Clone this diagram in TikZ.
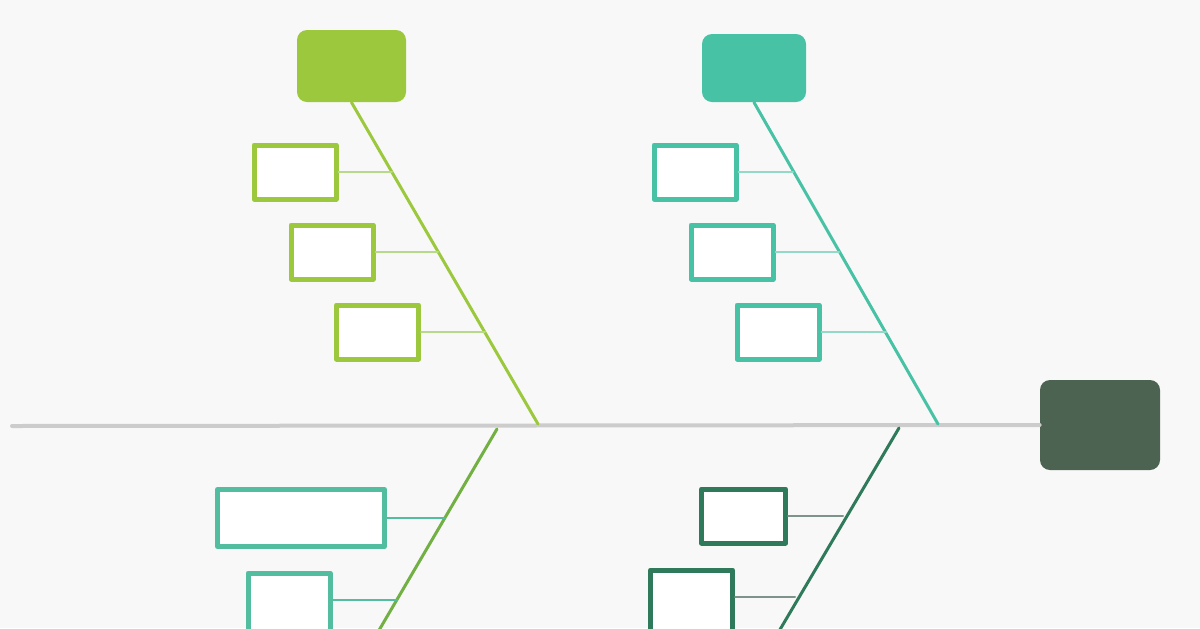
\documentclass[tikz,border=0pt]{standalone}
\usetikzlibrary{positioning}
\definecolor{bgcol}{HTML}{F8F8F8}
\definecolor{spinecol}{HTML}{CCCCCC}
\definecolor{headcol}{HTML}{4B6350}
\definecolor{limecol}{HTML}{9BC83C}
\definecolor{limelight}{HTML}{B9D98A}
\definecolor{tealcol}{HTML}{48C2A5}
\definecolor{teallight}{HTML}{93D9C8}
\definecolor{boxteal}{HTML}{52BE9F}
\definecolor{mixcol}{HTML}{72B044}
\definecolor{darkcol}{HTML}{2F7A5A}
\definecolor{darklight}{HTML}{7E948A}
\tikzset{
  cat/.style={rounded corners=5pt, inner sep=0pt},
  sub/.style={draw, fill=white, line width=2.5pt, inner sep=0pt,
    minimum width=41pt, minimum height=27pt},
  bone/.style={line width=1.5pt},
  rib/.style={line width=1pt}
}
\begin{document}
\begin{tikzpicture}[x=0.5pt, y=-0.5pt, line join=round, line cap=round]
  \fill[bgcol] (0,0) rectangle (1200,628);
  \clip (0,0) rectangle (1200,628);
  % head and spine
  \node[cat, fill=headcol, minimum width=60pt, minimum height=45pt] (head) at (1100,425) {};
  \draw[spinecol, line width=2pt] (12,426) coordinate (tail) -- (head.west);
  % top left
  \node[cat, fill=limecol, minimum width=54.5pt, minimum height=36pt] (catA) at (351.5,66) {};
  \coordinate (endA) at (538,424);
  \draw[bone, limecol] (catA.south) -- (endA);
  \node[sub, draw=limecol] (a1) at (295,172) {};
  \node[sub, draw=limecol] (a2) at (332,252) {};
  \node[sub, draw=limecol] (a3) at (377.5,332) {};
  \coordinate (pa1) at (392,172);
  \coordinate (pa2) at (438,252);
  \coordinate (pa3) at (485,332);
  \foreach \i in {1,2,3} \draw[rib, limelight] (a\i.east) -- (pa\i);
  % top right
  \node[cat, fill=tealcol, minimum width=52pt, minimum height=34pt] (catB) at (754,68) {};
  \coordinate (endB) at (938,424);
  \draw[bone, tealcol] (catB.south) -- (endB);
  \node[sub, draw=tealcol] (b1) at (695,172) {};
  \node[sub, draw=tealcol] (b2) at (732,252) {};
  \node[sub, draw=tealcol] (b3) at (778,332) {};
  \coordinate (pb1) at (793,172);
  \coordinate (pb2) at (839,252);
  \coordinate (pb3) at (886,332);
  \foreach \i in {1,2,3} \draw[rib, teallight] (b\i.east) -- (pb\i);
  % bottom left
  \coordinate (startC) at (497,429);
  \coordinate (endC) at (300,765);
  \draw[bone, mixcol] (startC) -- (endC);
  \node[sub, draw=boxteal, minimum width=83.5pt, minimum height=28.5pt] (c1) at (301,518) {};
  \node[sub, draw=boxteal, minimum height=31pt] (c2) at (289,604) {};
  \coordinate (pc1) at (445,518);
  \coordinate (pc2) at (397,600);
  \draw[rib, boxteal] (c1.east) -- (pc1);
  \draw[rib, boxteal] ([yshift=2pt]c2.east) -- (pc2);
  % bottom right
  \coordinate (startD) at (899,428);
  \coordinate (endD) at (700,765);
  \draw[bone, darkcol] (startD) -- (endD);
  \node[sub, draw=darkcol, minimum width=42pt] (d1) at (743.5,516) {};
  \node[sub, draw=darkcol, minimum height=31pt] (d2) at (691.5,601) {};
  \coordinate (pd1) at (843,516);
  \coordinate (pd2) at (795,597);
  \draw[rib, darklight] (d1.east) -- (pd1);
  \draw[rib, darklight] ([yshift=2pt]d2.east) -- (pd2);
\end{tikzpicture}
\end{document}
